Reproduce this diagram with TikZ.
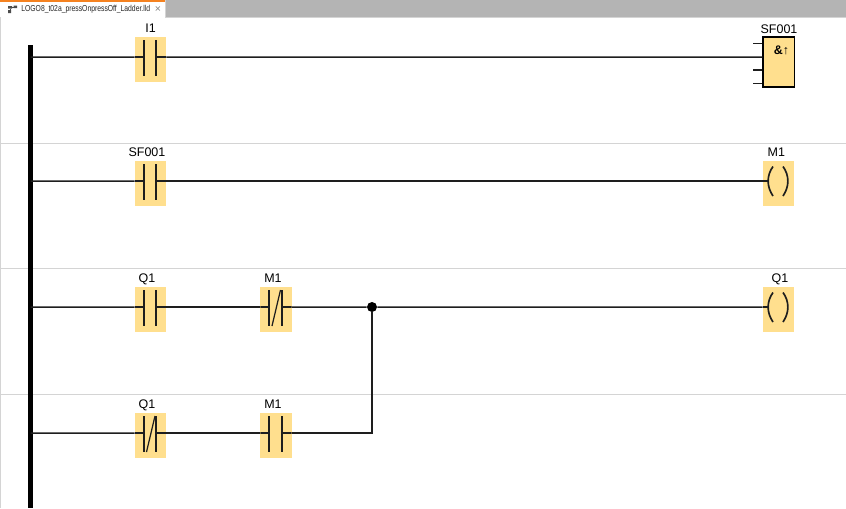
\documentclass[tikz,border=0pt]{standalone}
\usepackage{fontspec}
\setmainfont{Liberation Sans}
\newfontfamily\tabfont[FakeStretch=0.79]{Liberation Sans}
\usepackage{xcolor}
\usetikzlibrary{positioning}

\definecolor{boxfill}{HTML}{FFDF8E}
\definecolor{wirecol}{HTML}{1E1E1E}
\definecolor{gridcol}{HTML}{D4D4D4}
\definecolor{barcol}{HTML}{B4B4B4}
\definecolor{tabcol}{HTML}{F58220}

% wires sit a little above the middle of the yellow boxes
\newcommand{\wireup}{0.05cm}
\newcommand{\blockup}{0.1cm}

% stubs and plates of a contact
\newcommand{\contactbody}{
	\draw[wire] (-16,-2.5) -- (-6.7,-2.5) (5.7,-2.5) -- (16,-2.5);
	\draw[plate] (-6.7,-19.5) -- (-6.7,16.5) (5.7,-19.5) -- (5.7,16.5);
}

\tikzset{
	wire/.style={draw=wirecol, line width=0.85pt},
	plate/.style={draw=wirecol, line width=0.95pt},
	tagtext/.style={inner sep=0pt, text depth=0pt, font=\fontsize{7.1}{8}\selectfont},
	elem/.style={fill=boxfill, inner sep=0pt, minimum width=17.8pt, minimum height=25.6pt},
	nocontact/.style={elem, path picture={
		\begin{scope}[shift={(path picture bounding box.center)}]
			\contactbody
		\end{scope}}},
	nccontact/.style={elem, path picture={
		\begin{scope}[shift={(path picture bounding box.center)}]
			\contactbody
			\draw[plate, line width=0.7pt] (4.5,-19.5) -- (-4,16.5);
		\end{scope}}},
	coil/.style={elem, path picture={
		\begin{scope}[shift={(path picture bounding box.center)}]
			\draw[wire] (-16,-2.5) -- (-10.5,-2.5);
			\draw[plate] (-5.5,-17) .. controls (-12,-8) and (-12,3) .. (-5.5,12.5);
			\draw[plate] (4.5,-17) .. controls (11,-8) and (11,3) .. (4.5,12.5);
		\end{scope}}},
	block/.style={fill=boxfill, draw=black, line width=0.7pt, inner sep=0pt, minimum width=18pt, minimum height=28.4pt},
	dot/.style={circle, fill=black, inner sep=0pt, minimum size=5.7pt}
}

\begin{document}
\begin{tikzpicture}[x=0.02cm, y=-0.02cm]
	\useasboundingbox (0,0) rectangle (846,508);
	\fill[white] (0,0) rectangle (846,508);

	% Tab bar
	\fill[barcol] (165,0) rectangle (846,17);
	\draw[gridcol, line width=0.4pt] (165,17) -- (846,17);
	\fill[tabcol] (0,0) rectangle (165,1.5);
	\draw[gridcol, line width=0.4pt] (165,0) -- (165,17);
	\node[inner sep=0pt, anchor=west, font=\tabfont\fontsize{4.9}{6}\selectfont, text=black!85] (tabname) at (21,9) {LOGO8\_t02a\_pressOnpressOff\_Ladder.lld};
	\node[inner sep=0pt, font=\fontsize{6}{6}\selectfont, text=black!50] (tabclose) at (158,9.5) {×};
	% Tab icon
	\fill[black!70] (8,6) rectangle (12,8.5) (13.5,5.5) rectangle (17,8) (8,10) rectangle (11,13);
	\draw[black!70, line width=0.3pt] (12,7) -- (13.5,7) (10,8.5) -- (10,10);

	% Rung separators
	\foreach \y in {143,268,394}
		\draw[gridcol, line width=0.55pt] (0,\y) -- (846,\y);
	\draw[gridcol, line width=0.4pt] (0.3,17) -- (0.3,508);

	% Power rail
	\coordinate (railtop) at (30.5,45);
	\coordinate (railend) at (30.5,508);
	\coordinate (rail1) at (30.5,57);
	\coordinate (rail2) at (30.5,181);
	\coordinate (rail3) at (30.5,307);
	\coordinate (rail4) at (30.5,433);
	\draw[line width=2.85pt] (railtop) -- (railend);

	% Rung 1
	\node[nocontact] (i1) at (150.5,59.5) {};
	\node[block] (sfblock) at (778.7,62) {};
	\node[tagtext, above=2.3pt of i1] (i1tag) {I1};
	\node[tagtext] (sfblocktag) at (779,29) {SF001};
	\node[inner sep=0pt, font=\fontsize{7.1}{8}\selectfont\bfseries] (sfsymbol) at (781.5,50) {\&↑};
	\draw[wire] (rail1) -- ([yshift=\wireup]i1.west);
	\draw[wire] ([yshift=\wireup]i1.east) -- ([yshift=\blockup]sfblock.west);
	\foreach \y in {43.5,70,83.5}
		\draw[wire] (sfblock.west |- 0,\y) -- ++(-9,0);

	% Rung 2
	\node[nocontact] (sf) at (150.5,183.5) {};
	\node[coil] (m1coil) at (778.5,183.5) {};
	\node[tagtext, above=2.3pt of sf, xshift=-2pt] (sftag) {SF001};
	\node[tagtext, above=2.3pt of m1coil, xshift=-1.2pt] (m1coiltag) {M1};
	\draw[wire] (rail2) -- ([yshift=\wireup]sf.west);
	\draw[wire] ([yshift=\wireup]sf.east) -- ([yshift=\wireup]m1coil.west);

	% Rung 3
	\node[nocontact] (q1) at (150.5,309.5) {};
	\node[nccontact] (m1nc) at (276,309.5) {};
	\node[dot] (joint) at (372,307) {};
	\node[coil] (q1coil) at (778.5,309.5) {};
	\node[tagtext, above=2.3pt of q1, xshift=-2pt] (q1tag) {Q1};
	\node[tagtext, above=2.3pt of m1nc, xshift=-1.7pt] (m1nctag) {M1};
	\node[tagtext, above=2.3pt of q1coil, xshift=0.8pt] (q1coiltag) {Q1};
	\draw[wire] (rail3) -- ([yshift=\wireup]q1.west);
	\draw[wire] ([yshift=\wireup]q1.east) -- ([yshift=\wireup]m1nc.west);
	\draw[wire] ([yshift=\wireup]m1nc.east) -- (joint);
	\draw[wire] (joint) -- ([yshift=\wireup]q1coil.west);

	% Rung 4
	\node[nccontact] (q1nc) at (150.5,435.5) {};
	\node[nocontact] (m1no) at (276,435.5) {};
	\node[tagtext, above=2.3pt of q1nc, xshift=-2pt] (q1nctag) {Q1};
	\node[tagtext, above=2.3pt of m1no, xshift=-1.7pt] (m1notag) {M1};
	\draw[wire] (rail4) -- ([yshift=\wireup]q1nc.west);
	\draw[wire] ([yshift=\wireup]q1nc.east) -- ([yshift=\wireup]m1no.west);
	\draw[wire] ([yshift=\wireup]m1no.east) -| (joint);
\end{tikzpicture}
\end{document}
